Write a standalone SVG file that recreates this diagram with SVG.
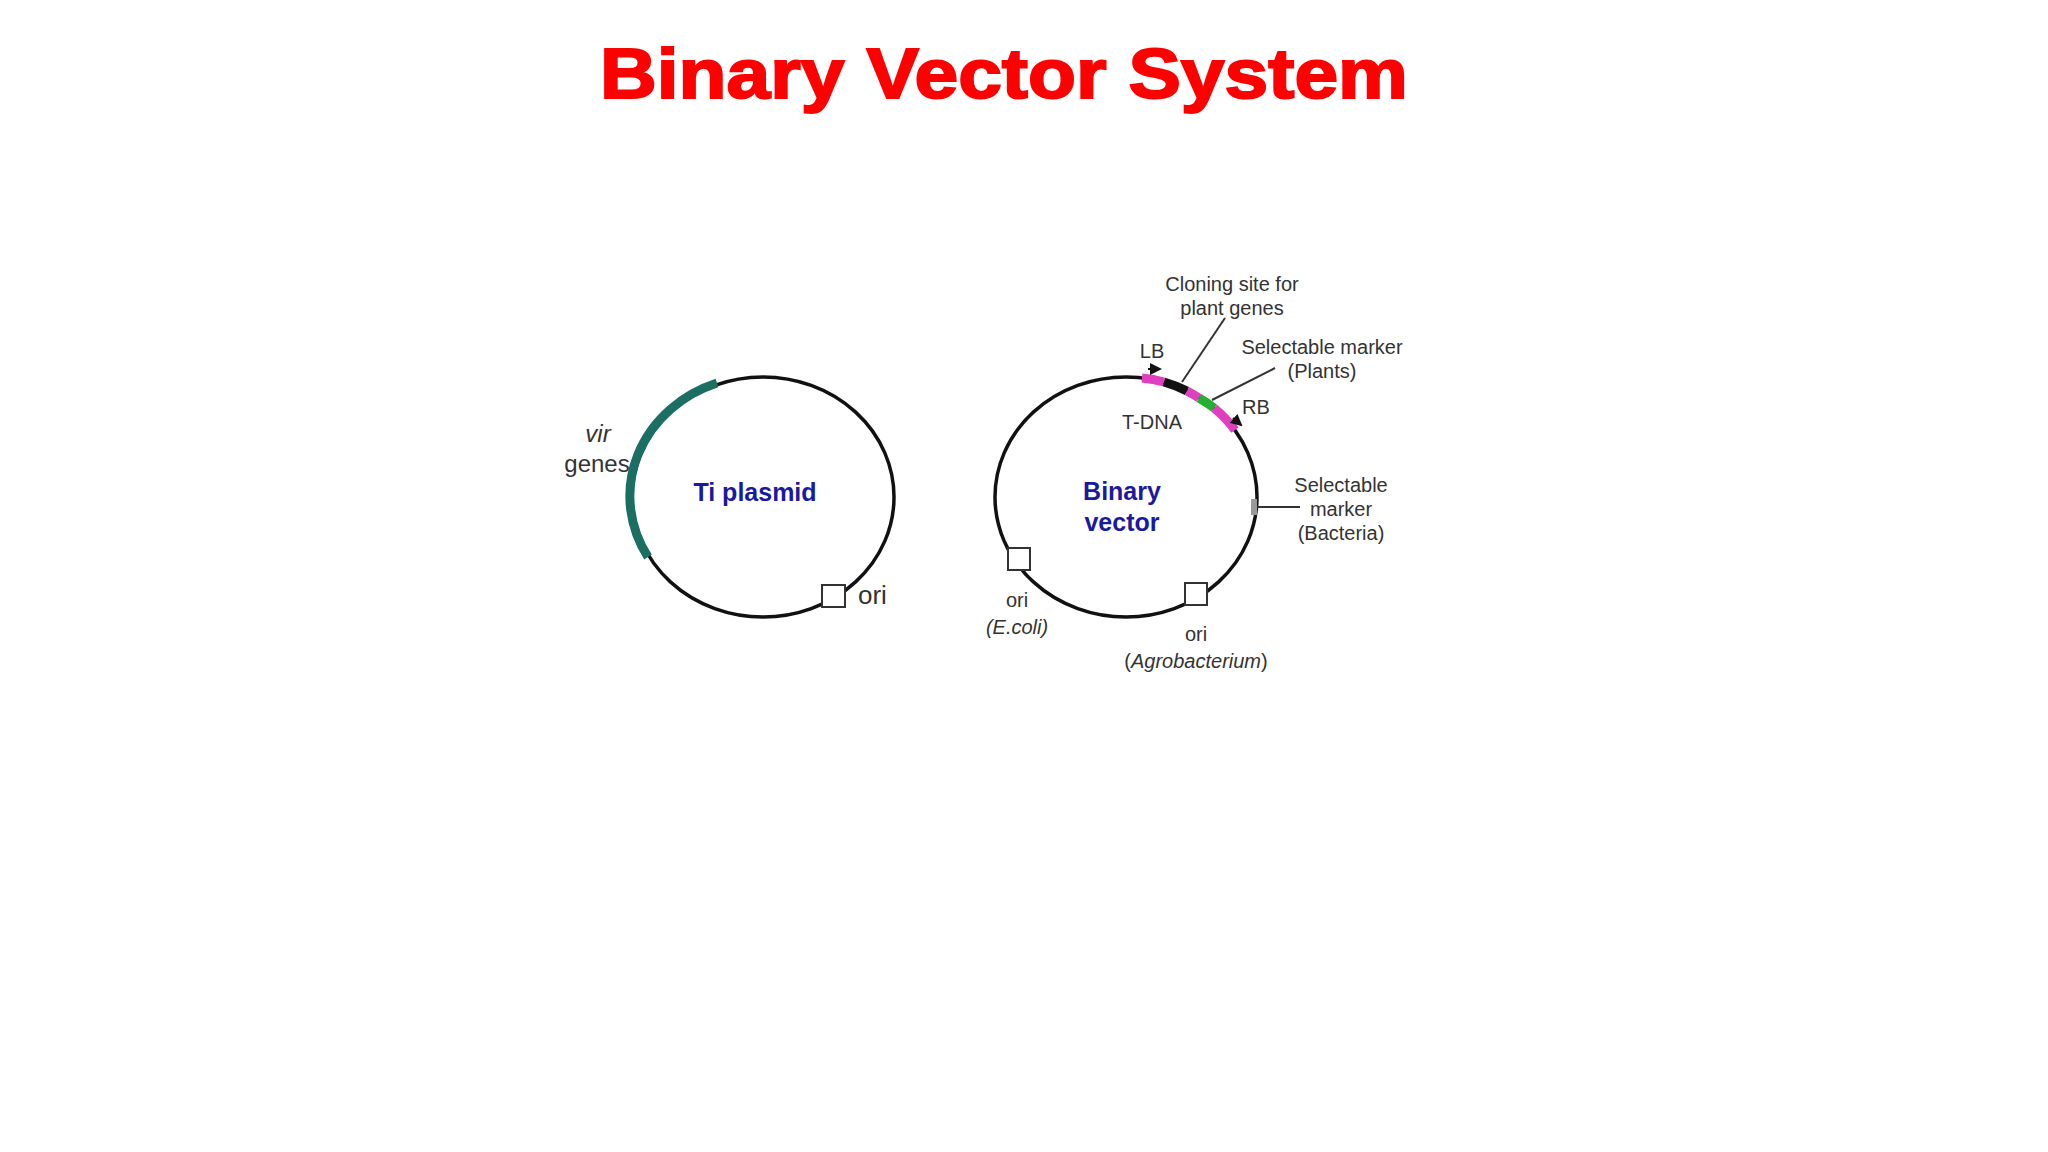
<svg xmlns="http://www.w3.org/2000/svg" width="2048" height="1152" viewBox="0 0 2048 1152">
<style>
text{font-family:"Liberation Sans",Arial,sans-serif;fill:#333}
.lbl{font-size:20px;text-anchor:middle}
.blue{fill:#1a1aa0;font-weight:bold;font-size:25px;text-anchor:middle}
.circ{fill:none;stroke:#111;stroke-width:3.5}
.seg{fill:none;stroke-width:9}
.lead{stroke:#333;stroke-width:2;fill:none}
.box{fill:#fff;stroke:#333;stroke-width:2}
</style>
<defs><marker id="ah" markerWidth="6" markerHeight="6" refX="5" refY="3" orient="auto"><path d="M0,0L6,3L0,6z" fill="#111"/></marker></defs>
<rect width="2048" height="1152" fill="#fff"/>
<text x="1004" y="98" text-anchor="middle" font-size="70" font-weight="bold" style="fill:#f00;stroke:#f00;stroke-width:2" textLength="808" lengthAdjust="spacingAndGlyphs">Binary Vector System</text>
<g id="ti">
<ellipse class="circ" cx="763" cy="497" rx="131" ry="120"/>
<path d="M717,383 A131,120 0 0 0 648,557" class="seg" stroke="#1a6f62"/>
<rect class="box" x="822" y="585" width="23" height="22"/>
<text x="858" y="604" font-size="26">ori</text>
<text x="598" y="442" font-size="24" text-anchor="middle" font-style="italic">vir</text>
<text x="597" y="472" font-size="24" text-anchor="middle">genes</text>
<text x="755" y="501" class="blue">Ti plasmid</text>
</g>
<g id="bv">
<ellipse class="circ" cx="1126" cy="497" rx="131" ry="120"/>
<path d="M1142,378 A131,120 0 0 1 1164,382" class="seg" stroke="#e040c0"/>
<path d="M1164,382 A131,120 0 0 1 1187,391" class="seg" stroke="#111"/>
<path d="M1187,391 A131,120 0 0 1 1199,398" class="seg" stroke="#e040c0"/>
<path d="M1199,398 A131,120 0 0 1 1214,408" class="seg" stroke="#22b030"/>
<path d="M1214,408 A131,120 0 0 1 1235,430" class="seg" stroke="#e040c0"/>
<rect x="1251" y="499" width="6" height="16" fill="#999"/>
<rect class="box" x="1008" y="548" width="22" height="22"/>
<rect class="box" x="1185" y="583" width="22" height="22"/>
<text x="1122" y="500" class="blue">Binary</text>
<text x="1122" y="531" class="blue">vector</text>
<text x="1152" y="429" class="lbl">T-DNA</text>
<text x="1152" y="358" class="lbl">LB</text>
<text x="1256" y="414" class="lbl">RB</text>
<text x="1232" y="291" class="lbl">Cloning site for</text>
<text x="1232" y="315" class="lbl">plant genes</text>
<text x="1322" y="354" class="lbl">Selectable marker</text>
<text x="1322" y="378" class="lbl">(Plants)</text>
<text x="1341" y="492" class="lbl">Selectable</text>
<text x="1341" y="516" class="lbl">marker</text>
<text x="1341" y="540" class="lbl">(Bacteria)</text>
<text x="1017" y="607" class="lbl">ori</text>
<text x="1017" y="634" class="lbl" font-style="italic">(E.coli)</text>
<text x="1196" y="641" class="lbl">ori</text>
<text x="1196" y="668" class="lbl">(<tspan font-style="italic">Agrobacterium</tspan>)</text>
</g>
<g id="connectors">
<line class="lead" x1="1225" y1="318" x2="1182" y2="382"/>
<line class="lead" x1="1275" y1="368" x2="1212" y2="400"/>
<line class="lead" x1="1257" y1="507" x2="1300" y2="507"/>
<line x1="1148" y1="369" x2="1160" y2="369" stroke="#111" stroke-width="2" marker-end="url(#ah)"/>
<line x1="1233" y1="418" x2="1241" y2="425" stroke="#111" stroke-width="2" marker-end="url(#ah)"/>
</g>
</svg>
